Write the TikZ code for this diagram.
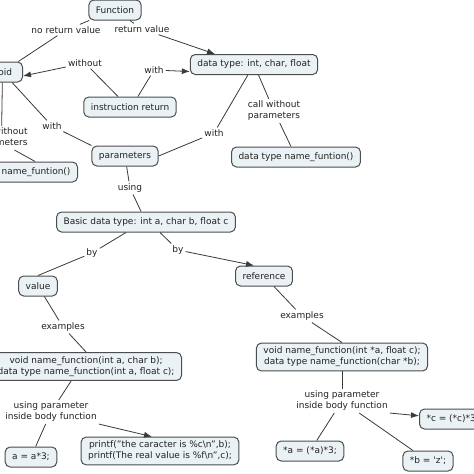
\documentclass[tikz,border=0pt]{standalone}
\usepackage{fontspec}
\setmainfont{DejaVu Sans}
\usetikzlibrary{arrows.meta}
\definecolor{boxfill}{HTML}{EAF2F5}
\definecolor{boxdraw}{HTML}{4D4D4D}
\definecolor{linec}{HTML}{3A3A3A}
\definecolor{txt}{HTML}{222222}
\begin{document}
\begin{tikzpicture}[x=1pt,y=-1pt,
  font=\fontsize{9}{11}\selectfont,
  cbox/.style={draw=boxdraw, line width=1pt, fill=boxfill, rounded corners=5pt, inner xsep=7pt, inner ysep=4pt, minimum height=20pt, text=txt, align=center},
  lbl/.style={inner sep=2pt, text=txt, align=center},
  conn/.style={draw=linec, line width=0.8pt},
  arr/.style={conn, -{Latex[length=8pt,width=6pt]}}
]
\useasboundingbox (0,0) rectangle (474,474);
\clip (0,0) rectangle (474,474);
\fill[white] (0,0) rectangle (474,474);

% boxes
\node[cbox] (fn) at (115,10) {Function};
\node[cbox, minimum width=40pt] (void) at (2.5,72) {void};
\node[cbox] (dt) at (254,64.5) {data type: int, char, float};
\node[cbox] (ir) at (130,107) {instruction return};
\node[cbox] (par) at (125,156) {parameters};
\node[cbox] (dtn) at (296,157) {data type name\_funtion()};
\node[cbox, anchor=east] (lbox) at (78,172) {void name\_funtion()};
\node[cbox] (basic) at (146,222) {Basic data type: int a, char b, float c};
\node[cbox] (val) at (38,286) {value};
\node[cbox] (ref) at (264,276) {reference};
\node[cbox, anchor=east] (vex) at (182,366.5) {void name\_function(int a, char b);\\data type name\_function(int a, float c);};
\node[cbox] (rex) at (342,357) {void name\_function(int *a, float c);\\data type name\_function(char *b);};
\node[cbox] (abox) at (31,457) {a = a*3;};
\node[cbox] (pf) at (160,451) {printf("the caracter is \%c\textbackslash n",b);\\printf(The real value is \%f\textbackslash n",c);};
\node[cbox] (astar) at (310,451) {*a = (*a)*3;};
\node[cbox] (bstar) at (428,461) {*b = \textquotesingle z\textquotesingle;};
\node[cbox, anchor=west] (cstar) at (419,419) {*c = (*c)*3;};

% labels
\node[lbl] (nrv) at (66,30) {no return value};
\node[lbl] (rv) at (142,29) {return value};
\node[lbl] (wo) at (85,63) {without};
\node[lbl] (w1) at (154,70) {with};
\node[lbl] (w2) at (52,126) {with};
\node[lbl] (cwpL) at (1.5,138) {call without\\parameters};
\node[lbl] (w3) at (214,133) {with};
\node[lbl] (cwpR) at (274,111) {call without\\parameters};
\node[lbl] (us) at (130,188) {using};
\node[lbl] (by1) at (92,253) {by};
\node[lbl] (by2) at (178,250) {by};
\node[lbl] (ex1) at (63,327) {examples};
\node[lbl] (ex2) at (302,316) {examples};
\node[lbl] (ub1) at (51,412) {using parameter\\inside body function};
\node[lbl] (ub2) at (342,401) {using parameter\\inside body function};

% connectors
\draw[conn] (fn) -- (nrv);
\draw[conn] (nrv) -- (void);
\draw[conn] (fn) -- (rv);
\draw[arr] (rv) -- ([xshift=-39pt]dt.north);
\draw[conn] ([xshift=-12pt]ir.north) -- (wo);
\draw[arr] (wo) -- ([yshift=-4pt]void.east);
\draw[conn] ([xshift=8pt]ir.north) -- (w1);
\draw[arr] (w1) -- ([yshift=-7pt]dt.west);
\draw[conn] (void) -- (w2);
\draw[conn] (w2) -- (par.north west);
\draw[conn] (void) -- (cwpL);
\draw[conn] ([xshift=13pt]cwpL.south) -- ([xshift=10pt]lbox.north);
\draw[conn] (dt) -- (w3);
\draw[conn] (w3) -- (par.east);
\draw[conn] (dt) -- (cwpR);
\draw[conn] (cwpR) -- (dtn);
\draw[conn] (par) -- (us);
\draw[conn] (us) -- (basic);
\draw[conn] ([xshift=-20pt]basic.south) -- (by1);
\draw[conn] (by1) -- (val.north);
\draw[conn] ([xshift=14pt]basic.south) -- (by2);
\draw[arr] (by2) -- ([xshift=-10pt]ref.north);
\draw[conn] (val) -- (ex1);
\draw[conn] (ex1) -- (vex.north);
\draw[conn] (ref) -- (ex2);
\draw[conn] (ex2) -- (rex.north);
\draw[conn] ([xshift=-15pt]vex.south) -- (ub1);
\draw[conn] (ub1) -- (abox);
\draw[arr] (ub1.south east) -- ([xshift=-8pt]pf.north);
\draw[conn] (rex) -- (ub2);
\draw[conn] (ub2) -- (astar);
\draw[conn] (ub2) -- (bstar);
\draw[arr] (ub2.south east) -- (cstar);
\end{tikzpicture}
\end{document}
